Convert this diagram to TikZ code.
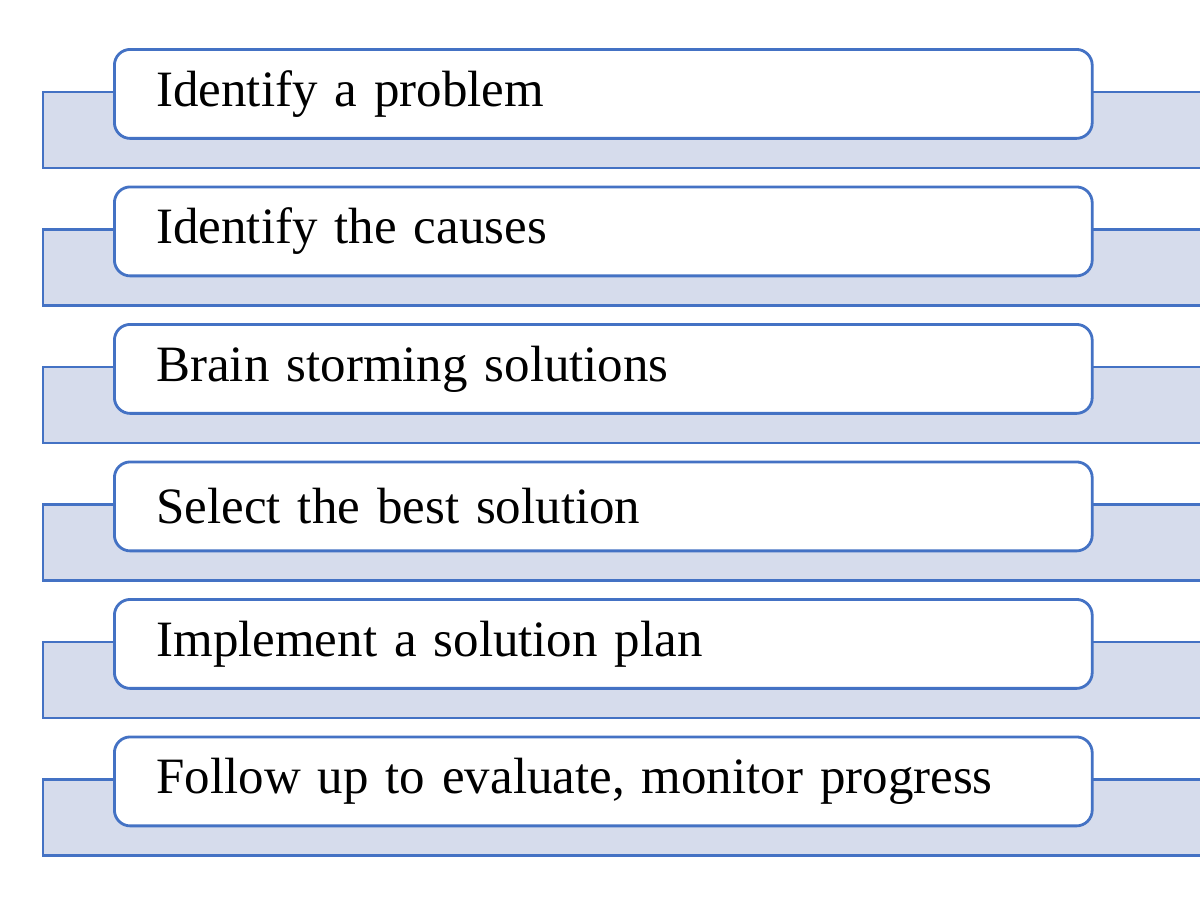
\documentclass[tikz,border=0pt]{standalone}
\usepackage{fontspec}
\setmainfont[WordSpace=0.6]{Liberation Serif}
\definecolor{stepblue}{HTML}{4472C4}
\definecolor{bandfill}{HTML}{D6DCEC}
\begin{document}
\begin{tikzpicture}[x=0.02cm, y=-0.02cm,
    band/.style={draw=stepblue, line width=1.6pt, fill=bandfill},
    stepbox/.style={rectangle, rounded corners=9pt, draw=stepblue, line width=1.6pt, fill=white,
      minimum width=19.56cm, minimum height=1.78cm, text width=17.88cm, inner xsep=0.84cm, align=left,
      font=\fontsize{29}{33}\selectfont, anchor=north west}]
    \useasboundingbox (0,0) rectangle (1200,900);
    \clip (0,0) rectangle (1200,900);
    % Bands and steps
    \foreach \t/\name/\txt in {48/s1/Identify a problem, 185.5/s2/Identify the causes,
        323/s3/Brain storming solutions, 460.5/s4/Select the best solution,
        598/s5/Implement a solution plan, 735.5/s6/{Follow up to evaluate, monitor progress}} {
      \draw[band] (43,\t+44) rectangle (1215,\t+120);
      \node[stepbox] (\name) at (113,\t) {\txt};
    }
\end{tikzpicture}
\end{document}
